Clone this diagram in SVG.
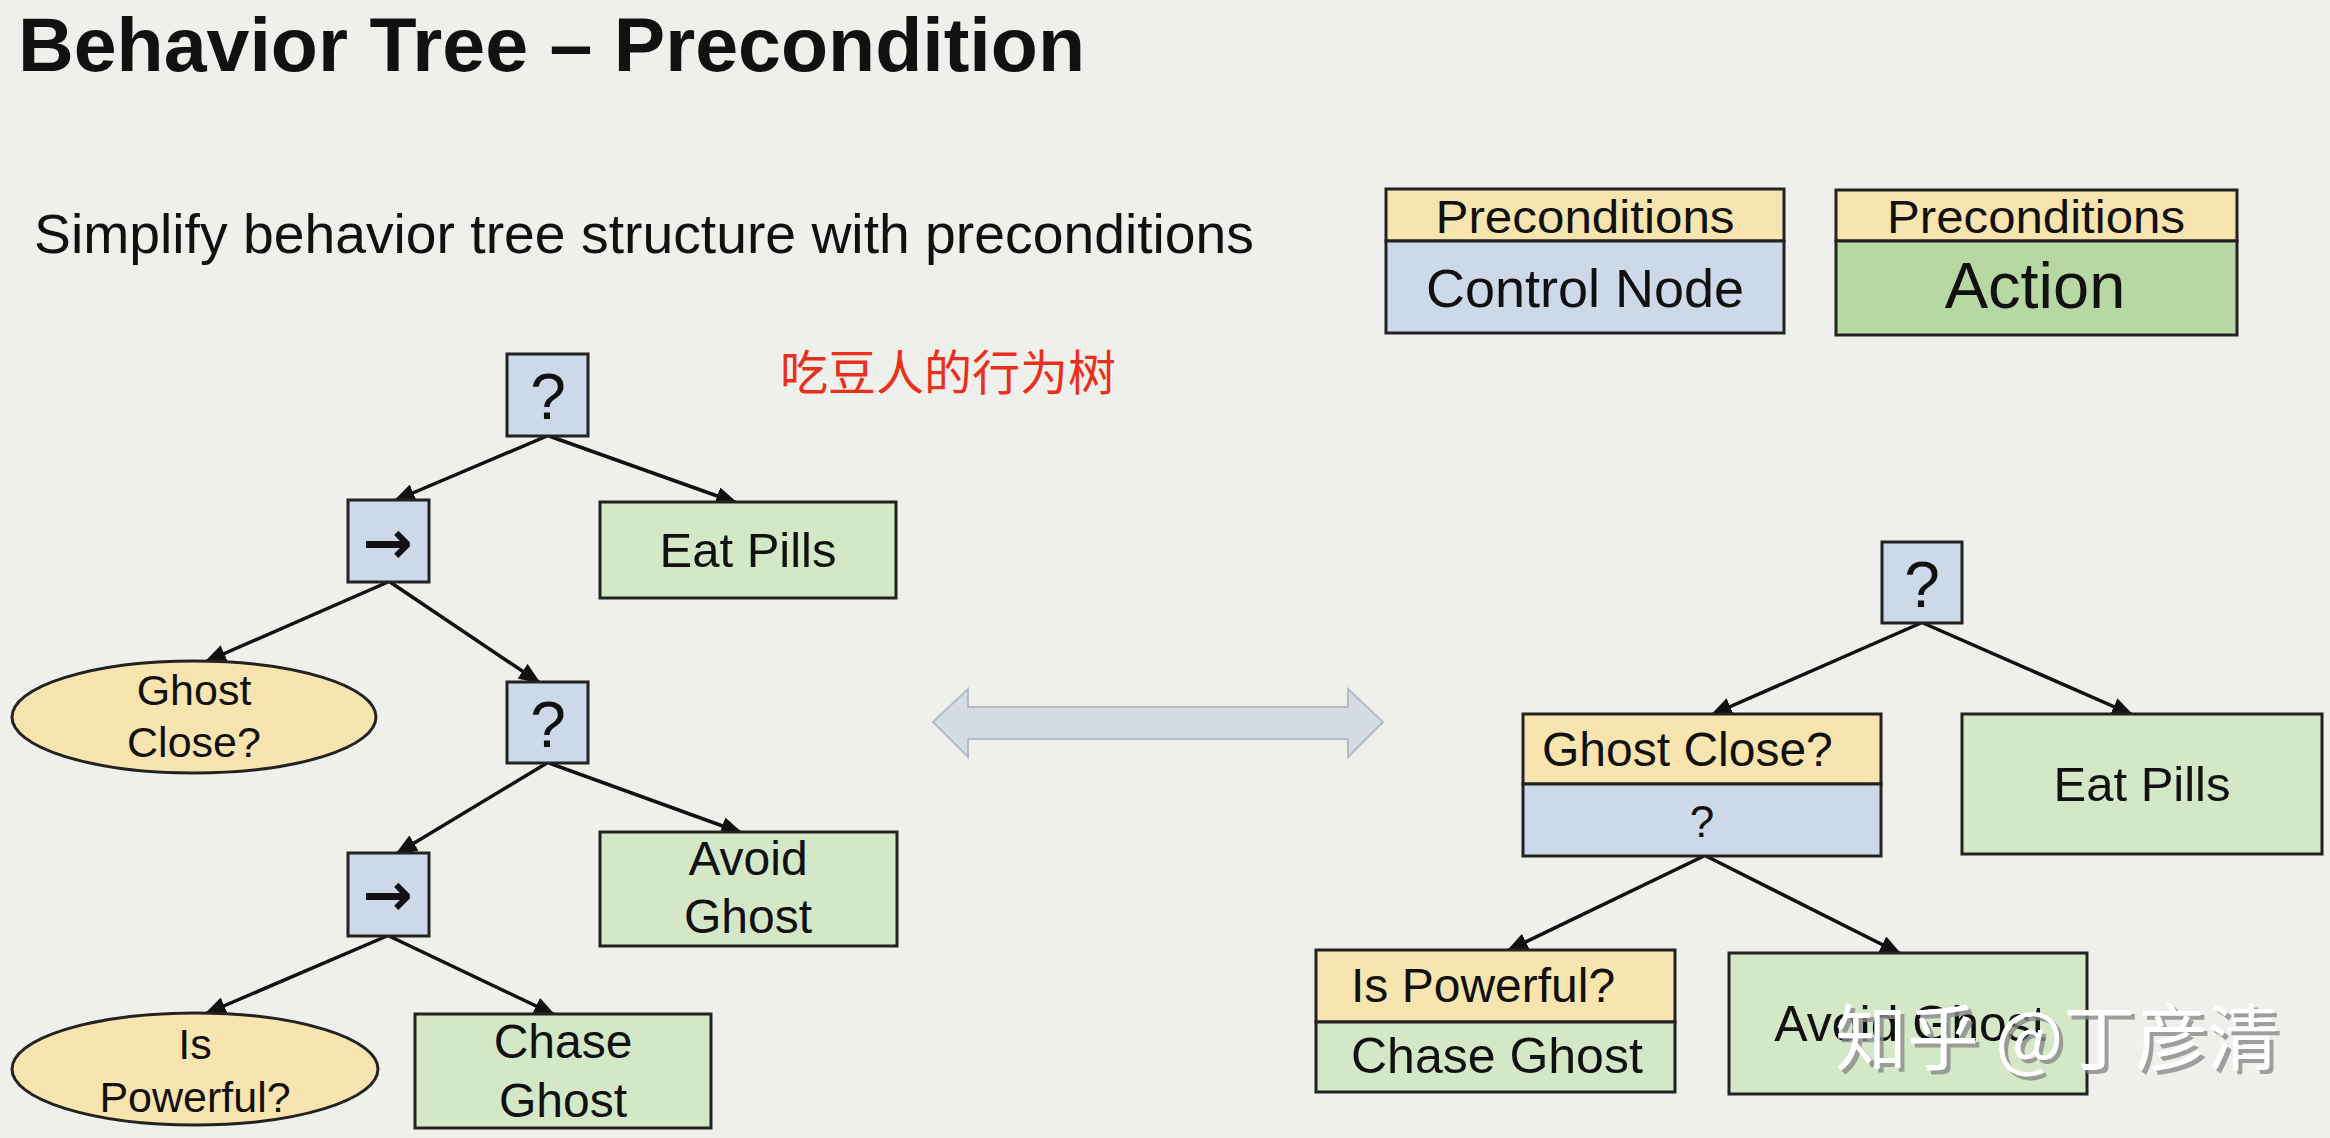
<svg xmlns="http://www.w3.org/2000/svg" width="2330" height="1138" viewBox="0 0 2330 1138">
<defs>
<style>
text{font-family:"Liberation Sans",Arial,"DejaVu Sans",sans-serif;fill:#111;}
.ctl{fill:#cdd9e8;stroke:#222;stroke-width:3;}
.pre{fill:#f8e4ae;stroke:#222;stroke-width:3;}
.act{fill:#d4e7c7;stroke:#222;stroke-width:3;}
.actL{fill:#b7d7a3;stroke:#222;stroke-width:3;}
.edge{stroke:#111;stroke-width:3.5;fill:none;marker-end:url(#ah);}
.c{text-anchor:middle;}
.t43{font-size:43px;}
.q{font-size:64px;text-anchor:middle;}
text.seq{font-family:"DejaVu Sans",sans-serif;font-size:60px;font-weight:bold;text-anchor:middle;}
</style>
<marker id="ah" viewBox="0 0 22 18" refX="21" refY="9" markerWidth="22" markerHeight="18" markerUnits="userSpaceOnUse" orient="auto">
<path d="M0,0 L22,9 L0,18 Z" fill="#111"/>
</marker>
</defs>
<rect x="0" y="0" width="2330" height="1138" fill="#efefeb"/>
<text x="18" y="71" font-size="76" font-weight="bold" fill="#000" textLength="1067" lengthAdjust="spacingAndGlyphs">Behavior Tree – Precondition</text>
<text x="34" y="253" font-size="55" textLength="1220" lengthAdjust="spacingAndGlyphs">Simplify behavior tree structure with preconditions</text>
<text x="780" y="390" font-size="48" style="font-family:'Noto Sans CJK SC','Noto Sans CJK JP',sans-serif;fill:#e8301c;">吃豆人的行为树</text>

<g id="legend-control">
<rect class="pre" x="1386" y="189" width="398" height="52"/>
<rect class="ctl" x="1386" y="241" width="398" height="92"/>
<text class="c" x="1585" y="233" font-size="46" textLength="299" lengthAdjust="spacingAndGlyphs">Preconditions</text>
<text class="c" x="1585" y="307" font-size="54">Control Node</text>
</g>
<g id="legend-action">
<rect class="pre" x="1836" y="190" width="401" height="51"/>
<rect class="actL" x="1836" y="241" width="401" height="94"/>
<text class="c" x="2036" y="233" font-size="46" textLength="298" lengthAdjust="spacingAndGlyphs">Preconditions</text>
<text class="c" x="2035" y="308" font-size="65">Action</text>
</g>

<g id="connectors">
<line class="edge" x1="547" y1="436" x2="394" y2="501"/>
<line class="edge" x1="549" y1="436" x2="737" y2="503"/>
<line class="edge" x1="388" y1="582" x2="205" y2="662"/>
<line class="edge" x1="390" y1="582" x2="540" y2="683"/>
<line class="edge" x1="549" y1="763" x2="742" y2="833"/>
<line class="edge" x1="547" y1="763" x2="396" y2="854"/>
<line class="edge" x1="387" y1="936" x2="205" y2="1014"/>
<line class="edge" x1="389" y1="936" x2="555" y2="1015"/>
<line class="edge" x1="1921" y1="623" x2="1711" y2="715"/>
<line class="edge" x1="1923" y1="623" x2="2133" y2="715"/>
<line class="edge" x1="1704" y1="856" x2="1507" y2="951"/>
<line class="edge" x1="1706" y1="856" x2="1901" y2="954"/>
</g>

<g id="L-root">
<rect class="ctl" x="507" y="354" width="81" height="82"/>
<text class="q" x="548" y="419">?</text>
</g>
<g id="L-seq1">
<rect class="ctl" x="348" y="500" width="81" height="82"/>
<text class="seq" x="388" y="563">→</text>
</g>
<g id="L-eatpills">
<rect class="act" x="600" y="502" width="296" height="96"/>
<text class="c" x="748" y="567" font-size="49">Eat Pills</text>
</g>
<g id="L-ghostclose">
<ellipse class="pre" cx="194" cy="717" rx="182" ry="56"/>
<text class="c t43" x="194" y="705">Ghost</text>
<text class="c t43" x="194" y="757">Close?</text>
</g>
<g id="L-sel2">
<rect class="ctl" x="507" y="682" width="81" height="81"/>
<text class="q" x="548" y="747">?</text>
</g>
<g id="L-avoid">
<rect class="act" x="600" y="832" width="297" height="114"/>
<text class="c" x="748" y="875" font-size="48">Avoid</text>
<text class="c" x="748" y="933" font-size="48">Ghost</text>
</g>
<g id="L-seq2">
<rect class="ctl" x="348" y="853" width="81" height="83"/>
<text class="seq" x="388" y="915">→</text>
</g>
<g id="L-ispowerful">
<ellipse class="pre" cx="195" cy="1069" rx="183" ry="56"/>
<text class="c t43" x="195" y="1059">Is</text>
<text class="c t43" x="195" y="1112">Powerful?</text>
</g>
<g id="L-chase">
<rect class="act" x="415" y="1014" width="296" height="114"/>
<text class="c" x="563" y="1058" font-size="48">Chase</text>
<text class="c" x="563" y="1117" font-size="48">Ghost</text>
</g>

<g id="arrow-double">
<polygon points="933,722 968,689 968,707 1348,707 1348,689 1383,722 1348,757 1348,739 968,739 968,757" fill="#d5dce3" stroke="#b3bcc6" stroke-width="2"/>
</g>

<g id="R-root">
<rect class="ctl" x="1882" y="542" width="80" height="81"/>
<text class="q" x="1922" y="607">?</text>
</g>
<g id="R-ghostclose">
<rect class="pre" x="1523" y="714" width="358" height="70"/>
<rect class="ctl" x="1523" y="784" width="358" height="72"/>
<text x="1542" y="766" font-size="48">Ghost Close?</text>
<text class="c" x="1702" y="837" font-size="44">?</text>
</g>
<g id="R-eatpills">
<rect class="act" x="1962" y="714" width="360" height="140"/>
<text class="c" x="2142" y="801" font-size="49">Eat Pills</text>
</g>
<g id="R-ispowerful">
<rect class="pre" x="1316" y="950" width="359" height="72"/>
<rect class="act" x="1316" y="1022" width="359" height="70"/>
<text x="1351" y="1002" font-size="48">Is Powerful?</text>
<text x="1351" y="1073" font-size="50">Chase Ghost</text>
</g>
<g id="R-avoid">
<rect class="act" x="1729" y="953" width="358" height="141"/>
<text class="c" x="1910" y="1041" font-size="50">Avoid Ghost</text>
</g>

<g id="watermark">
<text x="1839" y="1068" font-size="72" style="font-family:'Noto Sans CJK SC','Noto Sans CJK JP',sans-serif;fill:#8a8a8a;" opacity="0.8">知乎 @丁彦清</text>
<text x="1835" y="1064" font-size="72" style="font-family:'Noto Sans CJK SC','Noto Sans CJK JP',sans-serif;fill:#ffffff;">知乎 @丁彦清</text>
</g>
</svg>
